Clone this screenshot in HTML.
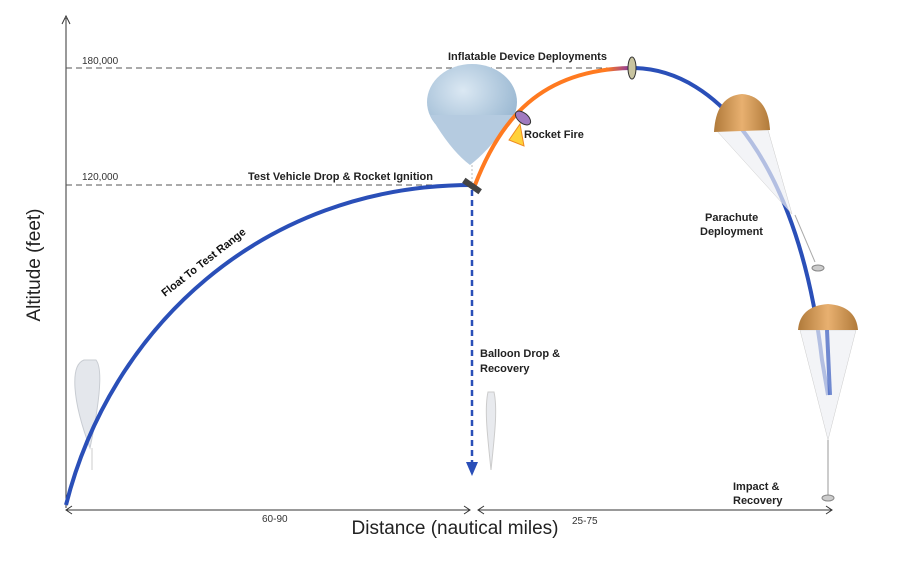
<!DOCTYPE html>
<html><head><style>
body{margin:0;background:#fff;}
svg{display:block;font-family:"Liberation Sans",sans-serif;}
</style></head><body>
<svg width="902" height="561" viewBox="0 0 902 561">
<defs>
<radialGradient id="bal" cx="40%" cy="35%" r="65%"><stop offset="0" stop-color="#dbe8f3"/><stop offset="1" stop-color="#9ab8d2"/></radialGradient>
<linearGradient id="chute" x1="0" y1="0" x2="1" y2="0"><stop offset="0" stop-color="#b07a3a"/><stop offset="0.5" stop-color="#e8b070"/><stop offset="1" stop-color="#b07a3a"/></linearGradient>
<linearGradient id="tr" x1="0" y1="0" x2="1" y2="0"><stop offset="0" stop-color="#ff7a20"/><stop offset="0.85" stop-color="#ff7a20"/><stop offset="1" stop-color="#8a3aa0"/></linearGradient>
</defs>
<line x1="66" y1="18" x2="66" y2="508" stroke="#333" stroke-width="1"/>
<path d="M62,24 L66,16 L70,24" fill="none" stroke="#333"/>
<line x1="66" y1="510" x2="470" y2="510" stroke="#333"/>
<path d="M72,506 L66,510 L72,514 M464,506 L470,510 L464,514" fill="none" stroke="#333"/>
<line x1="478" y1="510" x2="832" y2="510" stroke="#333"/>
<path d="M484,506 L478,510 L484,514 M826,506 L832,510 L826,514" fill="none" stroke="#333"/>
<line x1="66" y1="68" x2="630" y2="68" stroke="#555" stroke-dasharray="6,4"/>
<line x1="66" y1="185" x2="470" y2="185" stroke="#555" stroke-dasharray="6,4"/>
<text x="82" y="64" font-size="10" fill="#333">180,000</text>
<text x="82" y="180" font-size="10" fill="#333">120,000</text>
<text transform="translate(40,265) rotate(-90)" text-anchor="middle" font-size="19" fill="#222">Altitude (feet)</text>
<text x="455" y="534" text-anchor="middle" font-size="19" fill="#222">Distance (nautical miles)</text>
<text x="262" y="522" font-size="10" fill="#333">60-90</text>
<text x="572" y="524" font-size="10" fill="#333">25-75</text>
<path d="M84,360 C70,365 72,400 90,448 C98,410 104,370 96,360 Z" fill="#e4e7ec" stroke="#c8ccd2"/>
<line x1="92" y1="448" x2="92" y2="470" stroke="#ccc"/>
<path d="M66,505 C110,330 260,185 472,185" fill="none" stroke="#2a4fb8" stroke-width="4"/>
<text transform="translate(165,297) rotate(-38)" font-size="11" font-weight="bold" fill="#111">Float To Test Range</text>
<ellipse cx="472" cy="102" rx="45" ry="38" fill="url(#bal)"/>
<path d="M430,115 Q450,150 470,165 Q490,150 514,115" fill="#b5cbe0"/>
<line x1="472" y1="165" x2="472" y2="182" stroke="#bbb" stroke-dasharray="2,2"/>
<path d="M475,185 C500,120 540,70 630,68" fill="none" stroke="url(#tr)" stroke-width="4"/>
<path d="M509,140 L520,124 L524,146 Z" fill="#ffd23a" stroke="#f08a20"/>
<path d="M632,68 C720,68 800,170 822,360 L828,395" fill="none" stroke="#2a4fb8" stroke-width="4"/>
<g transform="translate(472,186) rotate(35)"><rect x="-10" y="-3" width="20" height="6" fill="#444"/></g>
<g transform="translate(523,118) rotate(40)"><ellipse rx="9" ry="5" fill="#a07ac0" stroke="#333"/></g>
<ellipse cx="632" cy="68" rx="4" ry="11" fill="#c8c4a0" stroke="#333"/>
<line x1="472" y1="190" x2="472" y2="465" stroke="#2a4fb8" stroke-width="2.5" stroke-dasharray="6,4"/>
<path d="M466,462 L472,476 L478,462 Z" fill="#2a4fb8"/>
<path d="M488,392 C484,410 488,440 491,470 C494,440 498,410 494,392 Z" fill="#e8eaee" stroke="#ccc"/>
<path d="M716,130 L792,214 L768,130 Z" fill="#eef0f4" fill-opacity="0.7" stroke="#ccc" stroke-width="0.5"/>
<path d="M714,132 Q716,96 742,94 Q768,96 770,130 Z" fill="url(#chute)"/>
<path d="M795,215 L815,262" stroke="#aaa"/>
<ellipse cx="818" cy="268" rx="6" ry="3" fill="#ccc" stroke="#888"/>
<path d="M800,330 L828,440 L856,330 Z" fill="#eef0f4" fill-opacity="0.7" stroke="#ccc" stroke-width="0.5"/>
<line x1="827" y1="330" x2="830" y2="395" stroke="#3a5cc0" stroke-width="4" opacity="0.7"/>
<path d="M798,330 Q800,306 828,304 Q856,306 858,330 Z" fill="url(#chute)"/>
<line x1="828" y1="440" x2="828" y2="495" stroke="#999"/>
<ellipse cx="828" cy="498" rx="6" ry="3" fill="#ccc" stroke="#888"/>
<g font-size="11" font-weight="bold" fill="#222">
<text x="448" y="60">Inflatable Device Deployments</text>
<text x="248" y="180">Test Vehicle Drop &amp; Rocket Ignition</text>
<text x="524" y="138">Rocket Fire</text>
<text x="705" y="221">Parachute</text>
<text x="700" y="235">Deployment</text>
<text x="480" y="357">Balloon Drop &amp;</text>
<text x="480" y="372">Recovery</text>
<text x="733" y="490">Impact &amp;</text>
<text x="733" y="504">Recovery</text>
</g>
</svg>
</body></html>
